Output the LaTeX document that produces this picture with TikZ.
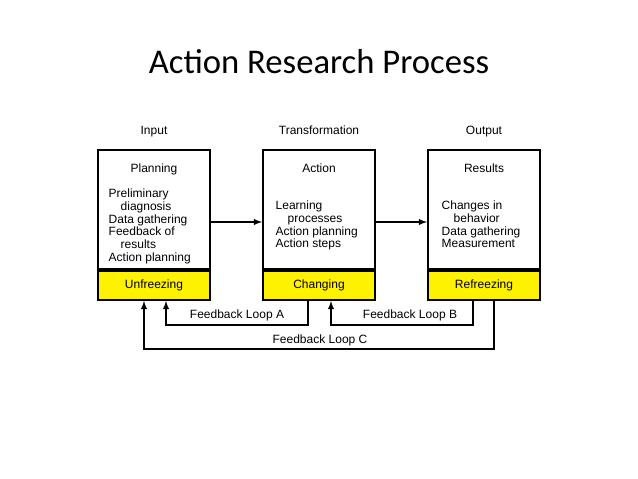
\documentclass[tikz,border=0pt]{standalone}
\usepackage{fontspec}
\setmainfont{Liberation Sans}
\newfontfamily\titlefont{Carlito}
\usetikzlibrary{positioning}
\newlength\pxu
\setlength\pxu{0.75pt}
\tikzset{
  stagebox/.style={draw,line width=1.5pt,minimum width=112\pxu,minimum height=119\pxu,anchor=north},
  phasebox/.style={draw,line width=1.5pt,fill=yellow,minimum width=112\pxu,minimum height=29\pxu,anchor=north},
  loopline/.style={line width=1.1pt,-latex},
  headtext/.style={text height=7pt,text depth=2pt},
}
\begin{document}
\begin{tikzpicture}[x=0.75pt,y=-0.75pt,font=\fontsize{9}{9.6}\selectfont]
\useasboundingbox (0,0) rectangle (638,478);
\node[font=\titlefont\fontsize{26}{30}\selectfont] (title) at (319,62) {Action Research Process};
% column heads
\node[headtext] (inhead) at (154,131) {Input};
\node[headtext] (trhead) at (319,131) {Transformation};
\node[headtext] (outhead) at (484,131) {Output};
% boxes
\node[stagebox] (plan) at (154,149) {};
\node[phasebox] (unfr) at (plan.south) {Unfreezing};
\node[stagebox] (act) at (319,149) {};
\node[phasebox] (chg) at (act.south) {Changing};
\node[stagebox] (res) at (484,149) {};
\node[phasebox] (refr) at (res.south) {Refreezing};
% box texts
\node[headtext] (plant) at (154,169) {Planning};
\node[align=left,anchor=north west] (planl) at (104,184) {Preliminary\\\hspace{1em}diagnosis\\Data gathering\\Feedback of\\\hspace{1em}results\\Action planning};
\node[headtext] (actt) at (319,169) {Action};
\node[align=left,anchor=north west] (actl) at (271,196) {Learning\\\hspace{1em}processes\\Action planning\\Action steps};
\node[headtext] (rest) at (484,169) {Results};
\node[align=left,anchor=north west] (resl) at (437,196) {Changes in\\\hspace{1em}behavior\\Data gathering\\Measurement};
% forward arrows
\draw[loopline] (plan.east |- 0,222) -- (act.west |- 0,222);
\draw[loopline] (act.east |- 0,222) -- (res.west |- 0,222);
% feedback loops
\coordinate (la) at (308,325);
\coordinate (lb) at (473,325);
\coordinate (lc) at (494,349);
\draw[loopline] (chg.south -| la) -- (la) -| (unfr.south -| 166,0);
\node[headtext] (loopa) at (237,315) {Feedback Loop A};
\draw[loopline] (refr.south -| lb) -- (lb) -| (chg.south -| 331,0);
\node[headtext] (loopb) at (410,315) {Feedback Loop B};
\draw[loopline] (refr.south -| lc) -- (lc) -| (unfr.south -| 144,0);
\node[headtext] (loopc) at (320,340) {Feedback Loop C};
\end{tikzpicture}
\end{document}
